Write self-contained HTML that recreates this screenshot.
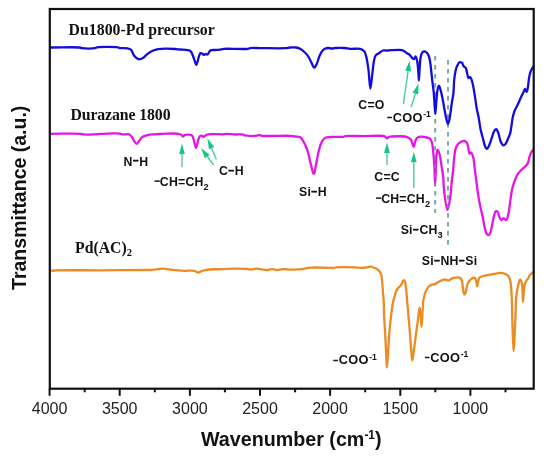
<!DOCTYPE html>
<html><head><meta charset="utf-8"><title>FTIR</title><style>
html,body{margin:0;padding:0;background:#fff;}
svg{display:block}
.ser{font-family:"Liberation Serif","Times New Roman",serif;font-weight:bold;fill:#111}
.san{font-family:"Liberation Sans",Arial,sans-serif}
.ann{font-family:"Liberation Sans",Arial,sans-serif;font-weight:bold;font-size:12.3px;fill:#111;letter-spacing:0.2px}
.tk{font-family:"Liberation Sans",Arial,sans-serif;font-size:16px;fill:#222}
</style></head><body>
<svg width="550" height="456" viewBox="0 0 550 456">
<rect width="550" height="456" fill="#fff"/>
<line x1="435.2" y1="56" x2="435.2" y2="213" stroke="#70abab" stroke-width="1.8" stroke-dasharray="4.6,4.4"/><line x1="448" y1="60" x2="448" y2="245.5" stroke="#70abab" stroke-width="1.8" stroke-dasharray="4.6,4.4"/>
<path fill="none" stroke="#e614e6" stroke-width="2.3" stroke-linejoin="round" stroke-linecap="round" d="M50.80,133.80 C60.87,133.80 76.90,133.20 81.00,133.80 C82.08,133.96 82.04,134.26 83.00,134.40 C85.31,134.73 91.69,134.42 95.00,134.30 C97.34,134.21 98.44,134.01 101.00,133.90 C105.56,133.71 116.92,133.03 120.00,133.60 C121.04,133.79 121.11,134.23 122.00,134.40 C123.62,134.71 127.38,133.75 129.10,134.40 C130.33,134.87 131.01,135.81 131.80,136.80 C132.71,137.92 133.25,139.69 134.10,140.90 C134.87,141.99 135.77,143.80 136.60,143.80 C137.43,143.80 138.27,141.93 139.10,140.90 C140.00,139.78 140.63,138.22 141.80,137.30 C143.03,136.33 144.77,135.78 146.40,135.30 C148.10,134.80 149.81,134.61 151.80,134.40 C154.24,134.14 157.43,134.14 160.00,134.00 C162.29,133.87 163.96,133.64 166.50,133.60 C170.11,133.54 177.11,133.28 179.60,134.00 C180.70,134.32 181.22,134.81 181.80,135.30 C182.27,135.70 182.48,136.58 182.90,136.60 C183.37,136.63 183.74,135.44 184.50,135.10 C185.65,134.59 188.11,134.48 189.50,134.70 C190.56,134.86 191.51,135.08 192.20,135.80 C193.07,136.71 193.35,138.73 193.80,140.20 C194.24,141.63 194.51,143.15 194.90,144.50 C195.25,145.73 195.63,148.00 196.00,148.00 C196.37,148.00 196.71,145.83 197.10,144.50 C197.60,142.77 198.02,140.07 198.70,138.50 C199.19,137.38 199.72,136.17 200.40,135.80 C200.88,135.54 201.49,135.64 202.00,135.80 C202.56,135.97 203.06,136.91 203.60,136.90 C204.16,136.89 204.64,136.00 205.30,135.60 C206.08,135.12 206.85,134.58 208.00,134.30 C209.75,133.87 212.67,134.10 215.00,134.10 C217.33,134.10 219.86,134.38 222.00,134.30 C223.81,134.24 225.14,133.81 227.00,133.80 C229.35,133.79 232.33,134.38 235.00,134.50 C237.66,134.62 241.25,134.12 243.00,134.50 C243.92,134.70 244.02,135.18 245.00,135.40 C247.29,135.91 254.70,135.97 257.00,135.60 C257.97,135.44 258.26,134.92 259.00,134.90 C259.90,134.88 260.47,135.58 262.00,135.80 C266.58,136.47 284.35,135.43 290.00,135.80 C292.47,135.96 293.60,136.28 295.30,136.50 C296.89,136.71 298.61,136.38 299.90,137.10 C301.27,137.86 302.24,139.62 303.20,141.10 C304.22,142.67 305.00,144.44 305.80,146.30 C306.68,148.35 307.55,150.68 308.20,152.90 C308.84,155.08 309.18,157.31 309.70,159.50 C310.22,161.68 310.75,163.83 311.30,166.00 C311.85,168.19 312.47,171.31 313.00,172.60 C313.24,173.18 313.45,173.79 313.70,173.80 C313.95,173.81 314.26,173.20 314.50,172.60 C315.02,171.31 315.28,168.19 315.70,166.00 C316.12,163.82 316.57,161.68 317.00,159.50 C317.43,157.31 317.80,155.09 318.30,152.90 C318.80,150.69 319.31,148.35 320.00,146.30 C320.63,144.44 321.22,142.56 322.20,141.10 C323.09,139.77 324.19,138.48 325.50,137.80 C326.80,137.12 328.45,137.17 330.00,137.00 C331.62,136.82 333.14,136.84 335.00,136.80 C337.35,136.75 341.13,137.07 343.00,136.80 C344.05,136.65 344.21,136.27 345.40,136.10 C348.54,135.65 356.79,136.10 362.90,136.10 C369.60,136.10 381.16,135.27 384.00,136.10 C384.80,136.33 384.90,136.66 385.40,137.00 C385.99,137.41 386.70,138.44 387.30,138.40 C387.90,138.36 388.29,137.12 389.00,136.80 C389.81,136.43 390.65,136.57 392.00,136.50 C394.81,136.36 402.21,136.05 405.00,136.50 C406.38,136.72 407.05,137.02 408.00,137.50 C408.99,138.00 410.08,138.58 410.80,139.50 C411.61,140.54 411.89,142.31 412.40,143.60 C412.85,144.76 413.28,146.92 413.70,146.90 C414.21,146.88 414.65,143.44 415.20,141.90 C415.69,140.53 415.93,138.97 416.80,138.10 C417.61,137.29 418.89,136.90 420.10,136.70 C421.44,136.48 423.10,136.79 424.50,137.00 C425.82,137.20 427.24,137.45 428.30,137.90 C429.17,138.27 429.90,138.59 430.50,139.30 C431.26,140.20 431.68,141.61 432.10,143.20 C432.70,145.49 432.86,148.70 433.20,151.90 C433.61,155.82 434.00,160.17 434.30,165.00 C434.67,170.96 434.83,185.00 435.10,185.00 C435.33,185.00 435.57,175.00 435.80,170.00 C436.03,165.00 436.03,158.71 436.50,155.00 C436.78,152.77 437.07,149.75 437.60,149.70 C438.15,149.65 439.21,153.06 439.80,155.20 C440.57,157.98 440.86,161.72 441.40,165.10 C441.96,168.65 442.65,172.01 443.10,176.00 C443.64,180.79 443.52,186.45 444.20,191.90 C444.93,197.76 446.41,209.98 447.50,210.00 C448.41,210.01 449.49,201.96 450.20,197.40 C451.03,192.09 451.36,184.73 451.90,180.00 C452.28,176.72 452.67,174.79 453.00,171.70 C453.42,167.81 453.60,162.58 454.10,158.50 C454.53,154.95 454.86,151.17 455.70,148.60 C456.28,146.82 456.93,145.46 457.90,144.30 C458.80,143.23 460.04,142.35 461.20,141.80 C462.25,141.30 463.55,140.81 464.50,141.00 C465.35,141.17 466.11,141.79 466.70,142.60 C467.51,143.71 467.86,145.76 468.30,147.50 C468.78,149.41 468.64,153.27 469.40,153.60 C469.84,153.79 470.58,152.34 471.10,152.50 C471.94,152.75 472.63,155.35 473.20,157.40 C474.07,160.55 474.32,165.41 474.90,169.80 C475.55,174.75 476.21,180.51 476.90,185.60 C477.55,190.36 478.17,195.19 478.90,199.40 C479.52,202.98 480.21,206.19 480.90,209.30 C481.52,212.09 482.20,214.35 482.80,217.20 C483.51,220.53 484.01,225.04 484.80,228.10 C485.40,230.39 485.99,232.91 486.80,234.00 C487.23,234.57 487.71,234.98 488.20,235.00 C488.71,235.02 489.34,234.62 489.80,234.00 C490.70,232.79 491.10,229.62 491.70,227.10 C492.41,224.11 492.93,220.05 493.70,217.20 C494.30,214.96 494.82,211.93 495.70,211.30 C496.12,211.00 496.67,211.02 497.10,211.30 C497.94,211.85 498.49,214.66 499.20,216.20 C499.85,217.61 500.38,220.03 501.20,220.20 C501.89,220.34 502.78,218.22 503.60,218.20 C504.44,218.18 505.48,220.42 506.20,220.20 C507.29,219.87 507.85,215.96 508.50,213.20 C509.39,209.40 509.81,203.83 510.50,199.40 C511.14,195.28 511.58,191.13 512.50,187.50 C513.31,184.31 514.49,181.08 515.50,178.70 C516.23,176.98 516.80,175.80 517.70,174.40 C518.67,172.89 519.98,171.28 521.20,170.00 C522.29,168.85 523.53,168.07 524.60,167.00 C525.67,165.93 526.81,165.04 527.60,163.60 C528.60,161.79 528.97,158.68 529.60,156.70 C530.09,155.18 530.34,153.91 531.00,152.70 C531.65,151.52 532.67,150.57 533.50,149.50"/>
<g opacity="0.45"><line x1="435.2" y1="56" x2="435.2" y2="213" stroke="#70abab" stroke-width="1.8" stroke-dasharray="4.6,4.4"/><line x1="448" y1="60" x2="448" y2="245.5" stroke="#70abab" stroke-width="1.8" stroke-dasharray="4.6,4.4"/></g>
<path fill="none" stroke="#120cde" stroke-width="2.3" stroke-linejoin="round" stroke-linecap="round" d="M50.80,47.50 C60.53,47.50 75.98,46.82 80.00,47.50 C81.08,47.68 81.02,48.03 82.00,48.20 C84.42,48.61 92.58,48.67 95.00,48.20 C95.98,48.01 95.95,47.60 97.00,47.40 C100.27,46.77 114.72,46.84 118.00,47.40 C119.04,47.58 119.11,47.94 120.00,48.10 C121.61,48.40 125.03,47.93 127.00,48.30 C128.52,48.59 129.79,48.76 130.90,49.70 C132.32,50.91 132.84,54.07 134.20,55.70 C135.42,57.17 136.97,58.89 138.50,59.20 C139.89,59.48 141.51,58.66 142.90,57.90 C144.46,57.05 145.71,55.26 147.30,54.10 C148.96,52.89 150.83,51.62 152.70,50.80 C154.47,50.02 156.20,49.55 158.20,49.20 C160.51,48.79 163.14,48.74 165.80,48.70 C168.72,48.65 172.40,48.83 175.00,49.00 C176.92,49.13 178.18,49.33 180.00,49.50 C182.20,49.70 185.61,49.87 187.30,50.10 C188.22,50.22 188.76,50.20 189.40,50.50 C190.07,50.82 190.67,51.30 191.20,52.00 C191.93,52.96 192.43,54.57 193.00,56.00 C193.63,57.58 194.22,59.51 194.80,61.10 C195.32,62.52 195.82,65.11 196.30,65.10 C196.78,65.09 197.25,62.55 197.70,61.10 C198.22,59.42 198.61,57.05 199.20,55.60 C199.62,54.57 200.01,53.35 200.60,53.10 C201.03,52.92 201.60,53.25 202.10,53.50 C202.70,53.80 203.29,54.87 203.90,54.90 C204.49,54.93 205.09,53.85 205.70,53.80 C206.29,53.75 206.95,54.67 207.50,54.50 C208.23,54.27 208.71,52.35 209.40,51.60 C209.96,50.99 210.41,50.49 211.20,50.20 C212.28,49.80 214.20,50.07 215.50,50.00 C216.59,49.94 217.46,49.92 218.50,49.80 C219.63,49.67 221.00,49.39 222.00,49.20 C222.76,49.06 222.96,48.90 224.00,48.80 C227.58,48.45 244.44,49.41 248.00,48.80 C249.06,48.62 249.06,48.26 250.00,48.10 C252.04,47.75 255.92,48.09 260.00,48.10 C266.46,48.11 279.86,48.55 285.00,48.20 C287.31,48.04 288.25,47.62 290.00,47.50 C291.90,47.37 294.17,47.20 296.00,47.50 C297.63,47.76 299.07,48.23 300.50,49.00 C302.05,49.84 303.59,51.24 304.90,52.50 C306.14,53.69 307.18,54.79 308.20,56.30 C309.42,58.12 310.44,60.79 311.50,62.80 C312.43,64.56 313.28,67.67 314.20,67.70 C315.08,67.73 316.08,65.09 316.90,63.40 C317.93,61.25 318.58,57.94 319.60,55.70 C320.45,53.84 321.35,52.00 322.40,50.80 C323.20,49.88 324.05,49.27 325.00,48.80 C325.92,48.34 326.92,48.07 328.00,48.00 C329.23,47.92 330.76,48.53 332.00,48.50 C333.07,48.48 333.70,48.11 335.00,48.00 C337.35,47.81 342.25,47.78 345.00,48.00 C346.96,48.16 348.04,48.64 350.00,48.80 C352.75,49.02 357.96,48.41 360.00,48.80 C360.95,48.98 361.33,49.21 362.00,49.60 C362.82,50.08 363.82,50.63 364.50,51.60 C365.43,52.95 365.83,55.10 366.40,57.40 C367.20,60.62 367.80,64.77 368.40,69.20 C369.17,74.86 369.69,88.59 370.40,88.60 C371.03,88.61 371.79,78.00 372.40,73.20 C372.94,68.98 373.20,64.55 373.90,61.30 C374.40,58.97 374.67,56.78 375.70,55.40 C376.52,54.29 377.86,53.98 379.00,53.20 C380.25,52.35 381.55,50.90 382.90,50.50 C384.09,50.14 385.31,50.64 386.60,50.60 C388.00,50.56 389.20,50.29 391.00,50.20 C393.82,50.06 399.50,49.54 401.90,50.10 C403.19,50.40 403.85,50.96 404.70,51.50 C405.50,52.01 406.11,52.66 406.90,53.20 C407.74,53.77 408.76,54.08 409.60,54.80 C410.58,55.64 411.45,57.34 412.30,58.10 C412.89,58.63 413.50,59.32 414.00,59.20 C414.63,59.05 415.11,56.35 415.60,56.40 C416.25,56.47 416.86,59.73 417.30,61.90 C417.91,64.91 418.12,69.57 418.40,72.90 C418.63,75.66 418.72,80.50 418.90,80.50 C419.14,80.50 419.39,71.46 419.70,67.40 C419.97,63.87 420.04,60.20 420.60,57.50 C421.00,55.56 421.46,53.65 422.20,52.60 C422.68,51.92 423.24,51.38 423.90,51.30 C424.67,51.21 425.83,51.83 426.60,52.50 C427.51,53.29 428.21,54.55 428.80,56.00 C429.61,57.99 429.96,60.89 430.40,63.60 C430.89,66.67 431.13,70.20 431.50,73.50 C431.87,76.80 432.22,80.21 432.60,83.40 C432.96,86.40 433.42,89.18 433.70,92.10 C433.99,95.05 434.06,97.77 434.30,101.00 C434.58,104.88 434.95,113.80 435.30,113.80 C435.65,113.80 436.02,105.10 436.40,101.00 C436.75,97.19 436.92,92.82 437.50,90.00 C437.88,88.18 438.40,85.62 438.90,85.60 C439.34,85.58 439.83,87.43 440.30,88.90 C441.18,91.64 442.13,96.72 443.00,101.00 C443.97,105.79 444.82,112.09 445.80,116.30 C446.51,119.32 447.32,124.00 448.00,124.00 C448.57,124.00 449.10,120.81 449.60,118.50 C450.42,114.70 451.11,107.74 451.80,103.20 C452.36,99.54 453.01,96.85 453.40,93.30 C453.85,89.20 453.76,84.07 454.20,80.00 C454.57,76.50 455.08,72.92 455.70,70.30 C456.14,68.46 456.53,67.08 457.20,65.70 C457.82,64.43 458.77,62.69 459.50,62.30 C459.88,62.10 460.22,62.25 460.60,62.30 C461.04,62.36 461.59,62.34 462.00,62.70 C462.68,63.29 462.88,65.39 463.60,66.30 C464.20,67.07 465.22,67.11 465.80,68.00 C466.70,69.38 466.87,72.64 467.40,74.50 C467.80,75.91 468.00,78.01 468.60,78.20 C469.03,78.34 469.73,76.89 470.20,77.00 C470.84,77.16 471.32,78.95 471.80,80.30 C472.49,82.25 472.98,85.05 473.50,87.70 C474.10,90.75 474.57,94.18 475.10,97.60 C475.67,101.26 476.16,105.53 476.80,109.00 C477.35,111.94 478.03,114.14 478.60,117.10 C479.28,120.66 479.71,125.09 480.50,128.90 C481.26,132.55 482.31,136.23 483.20,139.50 C483.97,142.33 484.56,145.86 485.50,147.40 C485.99,148.19 486.58,148.98 487.10,148.90 C487.80,148.79 488.45,146.81 489.10,145.40 C490.00,143.46 490.84,140.61 491.70,138.20 C492.57,135.78 493.26,132.41 494.30,130.90 C494.91,130.02 495.70,129.09 496.30,129.20 C497.07,129.34 497.67,131.35 498.30,132.90 C499.25,135.24 499.74,139.88 500.90,142.10 C501.67,143.58 502.72,145.27 503.60,145.40 C504.25,145.49 504.90,144.81 505.50,144.10 C506.50,142.91 507.39,140.05 508.20,138.20 C508.91,136.58 509.59,135.34 510.10,133.60 C510.72,131.48 510.97,128.88 511.40,126.30 C511.88,123.41 512.19,119.89 512.80,117.10 C513.33,114.70 513.89,112.53 514.70,110.50 C515.45,108.62 516.47,107.22 517.40,105.30 C518.52,103.00 519.83,99.89 520.90,97.60 C521.76,95.75 522.57,94.13 523.30,92.60 C523.92,91.30 524.42,89.02 525.00,89.00 C525.52,88.98 526.15,91.85 526.60,91.80 C527.11,91.74 527.45,89.38 527.80,87.70 C528.34,85.13 528.59,80.64 529.10,77.80 C529.49,75.63 529.80,73.81 530.40,72.10 C530.93,70.59 531.79,69.01 532.40,68.00 C532.79,67.35 533.13,67.00 533.50,66.50"/>
<path fill="none" stroke="#ee8a22" stroke-width="2.3" stroke-linejoin="round" stroke-linecap="round" d="M50.80,270.70 C51.87,270.70 53.06,270.77 54.00,270.70 C54.75,270.64 54.90,270.48 56.00,270.40 C61.15,270.01 84.86,270.36 100.00,270.30 C116.13,270.23 143.72,270.14 150.00,270.00 C151.46,269.97 151.52,270.00 152.70,269.90 C154.98,269.71 159.37,268.60 162.70,268.60 C166.03,268.60 169.29,269.54 172.70,269.90 C176.25,270.28 179.96,270.65 183.60,270.80 C187.23,270.95 191.87,270.20 194.50,270.80 C196.11,271.17 196.97,272.58 198.20,272.60 C199.40,272.62 200.36,271.46 201.80,271.00 C203.78,270.36 206.32,269.82 209.10,269.50 C212.74,269.09 217.53,269.35 221.80,269.20 C226.16,269.05 230.64,268.63 235.00,268.60 C239.27,268.57 244.74,268.75 247.70,269.00 C249.31,269.13 250.05,269.52 251.40,269.50 C253.03,269.47 254.72,268.62 256.80,268.60 C259.62,268.58 264.11,270.16 266.80,270.10 C268.63,270.06 269.80,269.22 271.40,269.20 C273.13,269.18 276.80,270.10 276.80,270.10 C276.80,270.10 276.80,270.10 276.80,270.10 C276.80,270.10 278.81,269.76 280.00,269.60 C281.48,269.40 283.33,269.00 285.00,269.00 C286.67,269.00 287.88,269.54 290.00,269.60 C293.66,269.71 301.93,269.25 305.00,268.70 C306.40,268.45 306.52,268.02 308.00,267.80 C311.93,267.22 326.05,267.67 330.00,267.80 C331.46,267.85 332.00,268.07 333.00,268.00 C334.00,267.93 334.56,267.54 336.00,267.40 C339.59,267.04 350.22,267.26 355.00,267.40 C357.91,267.48 359.76,267.87 362.00,267.80 C364.08,267.74 366.35,267.33 368.00,267.10 C369.17,266.93 369.90,266.47 371.00,266.60 C372.43,266.77 374.39,267.82 375.80,268.60 C377.04,269.28 378.19,269.92 379.10,270.90 C380.05,271.93 380.78,273.15 381.30,274.70 C381.98,276.76 381.93,279.67 382.20,282.40 C382.51,285.49 382.74,289.11 383.00,292.30 C383.24,295.29 383.52,297.74 383.70,301.00 C383.93,305.17 383.87,309.97 384.10,315.30 C384.39,322.06 385.01,330.90 385.40,338.30 C385.77,345.20 386.12,352.91 386.40,358.30 C386.59,361.95 386.67,367.50 386.90,367.50 C387.18,367.50 387.62,358.89 388.00,353.70 C388.48,347.01 388.87,337.93 389.50,330.70 C390.06,324.22 390.86,317.36 391.50,312.30 C391.95,308.73 392.24,305.96 392.80,303.20 C393.28,300.84 393.86,298.86 394.50,296.70 C395.15,294.50 395.73,291.85 396.70,290.10 C397.46,288.73 398.55,287.85 399.40,286.80 C400.17,285.86 401.04,285.05 401.60,284.10 C402.12,283.21 402.25,281.99 402.70,281.30 C403.02,280.81 403.43,280.20 403.80,280.20 C404.17,280.20 404.60,280.71 404.90,281.30 C405.53,282.53 405.70,285.54 406.00,287.90 C406.35,290.62 406.55,293.81 406.80,296.70 C407.05,299.51 407.25,302.08 407.50,305.00 C407.78,308.25 408.06,311.37 408.40,315.30 C408.86,320.55 409.49,327.44 410.00,333.70 C410.53,340.23 411.03,348.79 411.50,353.70 C411.78,356.57 411.97,360.49 412.30,360.50 C412.70,360.51 413.26,354.34 413.80,350.60 C414.50,345.72 415.37,339.19 416.10,333.70 C416.80,328.47 417.47,323.04 418.10,318.40 C418.63,314.51 419.14,307.70 419.60,307.70 C419.99,307.70 420.40,312.50 420.70,315.30 C421.07,318.73 421.24,326.80 421.50,326.80 C421.74,326.80 421.96,320.38 422.20,316.90 C422.46,313.02 422.72,307.92 423.00,304.60 C423.19,302.34 423.21,300.92 423.60,298.90 C424.06,296.51 424.85,293.36 425.80,291.20 C426.56,289.47 427.41,287.93 428.50,286.80 C429.45,285.81 430.65,285.05 431.80,284.60 C432.86,284.19 434.04,284.51 435.10,284.10 C436.25,283.65 437.12,282.57 438.40,281.90 C439.96,281.08 442.76,280.03 443.90,279.70 C444.40,279.56 444.52,279.49 445.00,279.50 C445.89,279.52 447.56,280.58 448.80,280.40 C450.13,280.21 451.17,278.68 452.70,278.20 C454.56,277.62 457.77,277.14 459.30,277.60 C460.27,277.90 460.88,278.45 461.40,279.30 C462.14,280.52 462.16,282.74 462.50,284.70 C462.90,287.03 463.12,290.63 463.60,292.40 C463.87,293.38 464.16,294.59 464.50,294.60 C464.88,294.61 465.40,293.06 465.80,291.90 C466.45,290.02 466.70,286.27 467.50,284.20 C468.10,282.66 468.76,281.46 469.70,280.40 C470.61,279.37 472.05,278.32 473.00,277.90 C473.59,277.64 474.14,277.36 474.60,277.60 C475.34,277.99 475.89,280.02 476.30,281.40 C476.75,282.93 476.80,286.39 477.10,286.40 C477.40,286.41 477.67,282.94 478.10,281.40 C478.49,280.03 478.63,278.50 479.50,277.60 C480.38,276.68 481.97,276.43 483.40,276.00 C485.05,275.50 486.98,275.27 488.90,274.90 C491.00,274.50 493.40,274.04 495.50,273.70 C497.41,273.39 499.23,272.78 501.00,272.90 C502.69,273.01 504.56,273.62 505.90,274.30 C507.00,274.86 507.89,275.45 508.60,276.40 C509.43,277.52 509.86,279.01 510.30,280.80 C510.94,283.41 511.13,287.31 511.40,290.70 C511.68,294.27 511.76,297.57 511.90,301.70 C512.08,307.03 512.12,313.77 512.30,320.00 C512.49,326.52 512.72,334.32 513.00,340.00 C513.21,344.21 513.46,351.00 513.70,351.00 C513.99,351.00 514.31,340.63 514.60,335.00 C514.92,328.71 515.21,321.56 515.50,315.00 C515.78,308.64 515.74,301.46 516.30,296.20 C516.71,292.36 517.37,289.18 518.00,286.30 C518.49,284.04 518.87,281.23 519.60,280.30 C519.93,279.88 520.39,279.58 520.70,279.70 C521.22,279.90 521.51,281.58 521.80,283.00 C522.29,285.39 522.42,289.67 522.60,292.90 C522.78,296.00 522.70,301.99 522.90,302.00 C523.10,302.01 523.52,295.81 523.80,292.90 C524.05,290.23 523.99,287.38 524.50,285.20 C524.90,283.50 525.48,282.04 526.20,280.80 C526.82,279.73 527.77,279.08 528.40,278.10 C529.04,277.09 529.22,275.78 530.00,274.80 C530.86,273.72 532.33,272.93 533.50,272.00"/>
<rect x="49.8" y="9" width="483.9" height="379.7" fill="none" stroke="#111" stroke-width="2.2"/>
<line x1="49.6" y1="388.6" x2="49.6" y2="395.8" stroke="#111" stroke-width="2"/>
<text class="tk" x="49.6" y="413.5" text-anchor="middle">4000</text>
<line x1="119.7" y1="388.6" x2="119.7" y2="395.8" stroke="#111" stroke-width="2"/>
<text class="tk" x="119.7" y="413.5" text-anchor="middle">3500</text>
<line x1="189.9" y1="388.6" x2="189.9" y2="395.8" stroke="#111" stroke-width="2"/>
<text class="tk" x="189.9" y="413.5" text-anchor="middle">3000</text>
<line x1="260.0" y1="388.6" x2="260.0" y2="395.8" stroke="#111" stroke-width="2"/>
<text class="tk" x="260.0" y="413.5" text-anchor="middle">2500</text>
<line x1="330.1" y1="388.6" x2="330.1" y2="395.8" stroke="#111" stroke-width="2"/>
<text class="tk" x="330.1" y="413.5" text-anchor="middle">2000</text>
<line x1="400.3" y1="388.6" x2="400.3" y2="395.8" stroke="#111" stroke-width="2"/>
<text class="tk" x="400.3" y="413.5" text-anchor="middle">1500</text>
<line x1="470.4" y1="388.6" x2="470.4" y2="395.8" stroke="#111" stroke-width="2"/>
<text class="tk" x="470.4" y="413.5" text-anchor="middle">1000</text>
<line x1="84.7" y1="388.6" x2="84.7" y2="392.3" stroke="#111" stroke-width="2"/>
<line x1="154.8" y1="388.6" x2="154.8" y2="392.3" stroke="#111" stroke-width="2"/>
<line x1="224.9" y1="388.6" x2="224.9" y2="392.3" stroke="#111" stroke-width="2"/>
<line x1="295.1" y1="388.6" x2="295.1" y2="392.3" stroke="#111" stroke-width="2"/>
<line x1="365.2" y1="388.6" x2="365.2" y2="392.3" stroke="#111" stroke-width="2"/>
<line x1="435.3" y1="388.6" x2="435.3" y2="392.3" stroke="#111" stroke-width="2"/>
<line x1="505.5" y1="388.6" x2="505.5" y2="392.3" stroke="#111" stroke-width="2"/>
<text class="san" x="201.0" y="446.2" font-size="19.7" font-weight="bold" fill="#111">Wavenumber (cm<tspan dy="-7" font-size="12">-1</tspan><tspan dy="7">)</tspan></text>
<text class="san" transform="translate(25.6,289.9) rotate(-90)" x="0" y="0" font-size="19.5" font-weight="bold" fill="#111">Transmittance (a.u.)</text>
<text class="ser" x="68.6" y="34.6" font-size="15.8" letter-spacing="0.02">Du1800-Pd precursor</text>
<text class="ser" x="70.4" y="119.6" font-size="15.8" letter-spacing="-0.1">Durazane 1800</text>
<text class="ser" x="75.0" y="252.6" font-size="15.8" letter-spacing="0">Pd(AC)<tspan dy="3" font-size="10.5">2</tspan></text>
<text class="ann" x="123.5" y="165.6">N<tspan font-size="10" stroke="#111" stroke-width="0.55" dx="0.3" dy="-1.3">−</tspan><tspan dy="1.3" dx="0.3">H</tspan></text>
<text class="ann" x="154.6" y="185.5"><tspan font-size="9" stroke="#111" stroke-width="0.55" dy="-1.3">−</tspan><tspan dy="1.3" dx="-0.2">C</tspan>H=CH<tspan dy="4" font-size="9.2">2</tspan></text>
<text class="ann" x="219.1" y="174.9">C<tspan font-size="10" stroke="#111" stroke-width="0.55" dx="0.3" dy="-1.3">−</tspan><tspan dy="1.3" dx="0.3">H</tspan></text>
<text class="ann" x="299.1" y="196.4">Si<tspan font-size="10" stroke="#111" stroke-width="0.55" dx="0.3" dy="-1.3">−</tspan><tspan dy="1.3" dx="0.3">H</tspan></text>
<text class="ann" x="358.3" y="109.1">C=O</text>
<text class="ann" style="letter-spacing:0.3px;font-size:12.8px" x="387.5" y="121.9"><tspan font-size="8" stroke="#111" stroke-width="0.55" dy="-1.6">−</tspan><tspan dy="1.6" dx="0.3">C</tspan>OO<tspan dy="-4.7" dx="0.4" font-size="8.6" style="letter-spacing:0">-1</tspan></text>
<text class="ann" x="374.3" y="181">C=C</text>
<text class="ann" x="375.9" y="202.6"><tspan font-size="9" stroke="#111" stroke-width="0.55" dy="-1.3">−</tspan><tspan dy="1.3" dx="-0.2">C</tspan>H=CH<tspan dy="4" font-size="9.2">2</tspan></text>
<text class="ann" x="400.7" y="234">Si<tspan font-size="10" stroke="#111" stroke-width="0.55" dx="0.3" dy="-1.3">−</tspan><tspan dy="1.3" dx="0.3">C</tspan>H<tspan dy="4" font-size="9.2">3</tspan></text>
<text class="ann" x="421.8" y="265.4">Si<tspan font-size="10" stroke="#111" stroke-width="0.55" dx="0.3" dy="-1.3">−</tspan><tspan dy="1.3" dx="0.3">N</tspan>H<tspan font-size="10" stroke="#111" stroke-width="0.55" dx="0.3" dy="-1.3">−</tspan><tspan dy="1.3" dx="0.3">S</tspan>i</text>
<text class="ann" style="letter-spacing:0.3px;font-size:12.8px" x="333.5" y="364.3"><tspan font-size="8" stroke="#111" stroke-width="0.55" dy="-1.6">−</tspan><tspan dy="1.6" dx="0.3">C</tspan>OO<tspan dy="-4.7" dx="0.4" font-size="8.6" style="letter-spacing:0">-1</tspan></text>
<text class="ann" style="letter-spacing:0.3px;font-size:12.8px" x="425.0" y="361.5"><tspan font-size="8" stroke="#111" stroke-width="0.55" dy="-1.6">−</tspan><tspan dy="1.6" dx="0.3">C</tspan>OO<tspan dy="-4.7" dx="0.4" font-size="8.6" style="letter-spacing:0">-1</tspan></text>
<line x1="182.0" y1="167.0" x2="182.0" y2="154.1" stroke="#4cc89e" stroke-width="1.4"/>
<polygon fill="#14c882" points="182.0,143.6 184.9,154.1 179.1,154.1"/>
<line x1="213.6" y1="165.0" x2="207.3" y2="156.5" stroke="#4cc89e" stroke-width="1.4"/>
<polygon fill="#14c882" points="201.0,148.1 209.6,154.8 205.0,158.3"/>
<line x1="216.4" y1="159.5" x2="211.6" y2="148.2" stroke="#4cc89e" stroke-width="1.4"/>
<polygon fill="#14c882" points="207.5,138.5 214.3,147.1 208.9,149.3"/>
<line x1="403.4" y1="103.8" x2="408.1" y2="71.2" stroke="#4cc89e" stroke-width="1.4"/>
<polygon fill="#14c882" points="409.6,60.8 411.0,71.6 405.2,70.8"/>
<line x1="411.1" y1="107.2" x2="415.4" y2="93.6" stroke="#4cc89e" stroke-width="1.4"/>
<polygon fill="#14c882" points="418.6,83.6 418.2,94.5 412.6,92.8"/>
<line x1="387.0" y1="165.0" x2="387.0" y2="152.9" stroke="#4cc89e" stroke-width="1.4"/>
<polygon fill="#14c882" points="387.0,142.4 389.9,152.9 384.1,152.9"/>
<line x1="413.8" y1="188.0" x2="413.8" y2="162.2" stroke="#4cc89e" stroke-width="1.4"/>
<polygon fill="#14c882" points="413.8,151.7 416.7,162.2 410.9,162.2"/>
</svg>
</body></html>
